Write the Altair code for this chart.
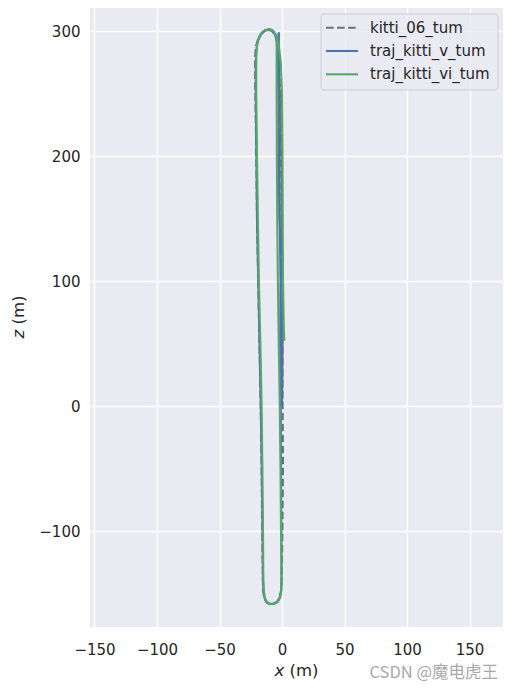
import altair as alt
import pandas as pd

# ---- data ----
names = ["kitti_06_tum", "traj_kitti_v_tum", "traj_kitti_vi_tum"]
colors = ["#707070", "#4c72b0", "#55a868"]

gt_x = [0, 0.3, 0.4, 0.3, 0, -0.5, -1.5, -2.5, -3.5,
        -5, -7.5, -10.5, -13.5, -16.5, -19, -20.8, -21.5,
        -21.5, -21, -20.5, -20, -19, -18, -17, -16.3, -15.8, -15.3,
        -15, -14.2, -12.5, -10, -7, -4, -2, -0.8, -0.3,
        0.3, 0.8, 0.5, 0.6, 0.2, -0.3, -0.8, -1.8, -2.7, -3.2]
gt_z = [0, 25, 50, 100, 150, 200, 250, 280, 292,
        297.5, 300.5, 301.5, 300.5, 298, 294, 288, 280,
        260, 230, 200, 150, 100, 50, 0, -50, -100, -140,
        -148, -153.5, -157, -158.5, -158.5, -157, -154, -149, -142,
        -100, -50, 0, 50, 100, 150, 200, 250, 280, 290]

v_x = [0, -0.5, -1.2, -1.8, -2.3, -2.8, -3.5, -4.2,
       -5.5, -8, -11, -14, -17, -19.3, -20.5, -21,
       -21, -20.5, -20, -19, -18, -17, -16.2, -15.6, -15.2,
       -14.8, -14, -12.3, -9.8, -6.8, -3.8, -1.8, -0.8, -0.4,
       -0.5, -0.7, -1, -1.5, -1.2, 0.5, 0.8, -1, -2.2, -2.5, -2.6, -2.6, -2.5]
v_z = [0, 50, 100, 150, 200, 250, 280, 291,
       297, 300, 301, 300, 297, 292, 285, 275,
       250, 200, 150, 100, 50, 0, -50, -100, -140,
       -148, -153.5, -157, -158.3, -158.2, -156.5, -153, -148, -140,
       -100, -50, 0, 50, 100, 112, 120, 132, 150, 200, 250, 280, 299]

vi_x = [1.8, 1.4, 0.8, 0.6, 0.4, 0, -1, -2.5,
        -4, -6.5, -9.5, -13, -16, -18.5, -20, -20.6,
        -20.6, -20, -19.3, -18.5, -17.3, -16.3, -15.7, -15.2, -14.9,
        -14.5, -13.7, -12, -9.5, -6.5, -3.5, -1.5, -0.5, -0.2,
        -0.8, -1.2, -1.8, -2.6, -3.3, -3.8, -4.1, -4.3, -4.3, -4.2]
vi_z = [52, 65, 100, 150, 200, 250, 275, 288,
        295, 299.5, 301.5, 301, 299, 295, 289, 280,
        250, 200, 150, 100, 50, 0, -50, -100, -140,
        -148, -153.5, -157, -158.5, -158.3, -156.8, -153.5, -148, -140,
        -100, -50, 0, 50, 100, 150, 200, 250, 280, 298]

x_ticks = [-150, -100, -50, 0, 50, 100, 150]
z_ticks = [-100, 0, 100, 200, 300]

xs = alt.Scale(domain=[-153.6, 176.8], nice=False, zero=False)
ys = alt.Scale(domain=[-176.8, 318.4], nice=False, zero=False)

FONT = "DejaVu Sans"


def traj(xv, zv, color, dash=None):
    df = pd.DataFrame({"x": xv, "z": zv, "i": list(range(len(xv)))})
    kw = dict(color=color, strokeWidth=2.1)
    if dash:
        kw["strokeDash"] = dash
    return alt.Chart(df).mark_line(**kw).encode(
        x=alt.X("x:Q", scale=xs,
                axis=alt.Axis(values=x_ticks, title=None, labelPadding=15)),
        y=alt.Y("z:Q", scale=ys,
                axis=alt.Axis(values=z_ticks, title=None, labelPadding=10)),
        order=alt.Order("i:Q"),
    )


one = pd.DataFrame({"a": [0]})

layers = [
    traj(gt_x, gt_z, colors[0], [7.7, 3.3]),
    traj(v_x, v_z, colors[1]),
    traj(vi_x, vi_z, colors[2]),
]

# legend frame
layers.append(
    alt.Chart(one).mark_rect(fill="#eaeaf2", fillOpacity=0.8, stroke="#cccccc",
                             strokeWidth=1, cornerRadius=3).encode(
        x=alt.value(231), x2=alt.value(408), y=alt.value(6), y2=alt.value(82))
)
for k, name in enumerate(names):
    yy = 19.7 + 23.3 * k
    rk = dict(color=colors[k], strokeWidth=2.1)
    if k == 0:
        rk["strokeDash"] = [7.7, 3.3]
    layers.append(alt.Chart(one).mark_rule(**rk).encode(
        x=alt.value(236), x2=alt.value(268), y=alt.value(yy)))
    layers.append(alt.Chart(one).mark_text(
        text=name, font=FONT, fontSize=15, color="#262626",
        align="left", baseline="middle").encode(
        x=alt.value(280), y=alt.value(yy)))

# axis titles (italic variable + regular unit)
layers.append(alt.Chart(one).mark_text(
    text="x", font=FONT, fontSize=16.5, fontStyle="italic", color="#262626",
    align="left", baseline="middle").encode(x=alt.value(184.5), y=alt.value(663)))
layers.append(alt.Chart(one).mark_text(
    text="(m)", font=FONT, fontSize=16.5, color="#262626",
    align="left", baseline="middle").encode(x=alt.value(199.5), y=alt.value(663)))
layers.append(alt.Chart(one).mark_text(
    text="z", font=FONT, fontSize=16.5, fontStyle="italic", color="#262626",
    align="left", baseline="middle", angle=270).encode(x=alt.value(-71), y=alt.value(330.4)))
layers.append(alt.Chart(one).mark_text(
    text="(m)", font=FONT, fontSize=16.5, color="#262626",
    align="left", baseline="middle", angle=270).encode(x=alt.value(-71), y=alt.value(316.5)))

# watermark
layers.append(alt.Chart(one).mark_text(
    text="CSDN @魔电虎王", font="Noto Sans CJK SC", fontSize=16.5, color="#a8a8a8",
    align="right", baseline="middle").encode(x=alt.value(408), y=alt.value(664.5)))

chart = alt.layer(*layers).properties(
    width=413, height=619,
    autosize=alt.AutoSizeParams(type="none"),
    padding={"left": 82, "top": 0, "right": 3, "bottom": 54},
    background="white",
).configure_view(
    fill="#eaeaf2", stroke=None
).configure_axis(
    domain=False, ticks=False, tickSize=0, grid=True, gridColor="white",
    gridWidth=1.4, labelFont=FONT, labelFontSize=15, labelColor="#262626",
)

chart.save("out.html", embed_options={"renderer": "svg", "actions": False})
